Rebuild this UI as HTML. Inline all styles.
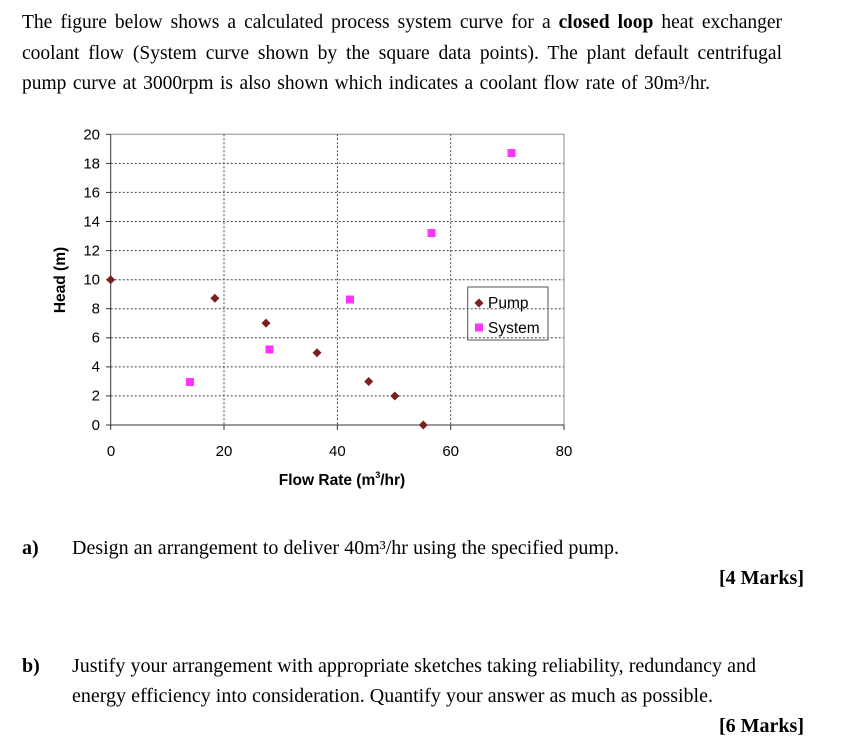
<!DOCTYPE html>
<html><head><style>
body{margin:0;background:#fff;width:860px;height:742px;overflow:hidden;font-family:"Liberation Serif",serif;color:#000}
.l{position:absolute;left:22px;width:760px;font-size:19.5px;line-height:31px;white-space:nowrap;text-align:justify;text-align-last:justify}
.t{position:absolute;font-size:20px;white-space:nowrap}
</style></head><body>
<div class="l" style="top:7px">The figure below shows a calculated process system curve for a <b>closed loop</b> heat exchanger</div>
<div class="l" style="top:38px">coolant flow (System curve shown by the square data points). The plant default centrifugal</div>
<div class="l" style="top:68px;width:688px">pump curve at 3000rpm is also shown which indicates a coolant flow rate of 30m³/hr.</div>
<svg style="position:absolute;left:0;top:0" width="860" height="742" font-family="Liberation Sans, sans-serif">
<g stroke="#444" stroke-width="1" stroke-dasharray="2,2">
<line x1="110.7" x2="564" y1="163.4" y2="163.4"/><line x1="110.7" x2="564" y1="192.4" y2="192.4"/><line x1="110.7" x2="564" y1="221.5" y2="221.5"/><line x1="110.7" x2="564" y1="250.6" y2="250.6"/><line x1="110.7" x2="564" y1="279.7" y2="279.7"/><line x1="110.7" x2="564" y1="308.7" y2="308.7"/><line x1="110.7" x2="564" y1="337.8" y2="337.8"/><line x1="110.7" x2="564" y1="366.9" y2="366.9"/><line x1="110.7" x2="564" y1="395.9" y2="395.9"/>
<line x1="224" x2="224" y1="134.3" y2="425"/><line x1="337.4" x2="337.4" y1="134.3" y2="425"/><line x1="450.7" x2="450.7" y1="134.3" y2="425"/>
</g>
<polyline points="110.7,134.3 564,134.3 564,425" fill="none" stroke="#888"/>
<g stroke="#333"><line x1="110.7" y1="134.3" x2="110.7" y2="425"/><line x1="110.7" y1="425" x2="564" y2="425"/>
<line x1="106" x2="110.7" y1="134.3" y2="134.3"/><line x1="106" x2="110.7" y1="163.4" y2="163.4"/><line x1="106" x2="110.7" y1="192.4" y2="192.4"/><line x1="106" x2="110.7" y1="221.5" y2="221.5"/><line x1="106" x2="110.7" y1="250.6" y2="250.6"/><line x1="106" x2="110.7" y1="279.7" y2="279.7"/><line x1="106" x2="110.7" y1="308.7" y2="308.7"/><line x1="106" x2="110.7" y1="337.8" y2="337.8"/><line x1="106" x2="110.7" y1="366.9" y2="366.9"/><line x1="106" x2="110.7" y1="395.9" y2="395.9"/><line x1="106" x2="110.7" y1="425" y2="425"/>
<line x1="110.7" x2="110.7" y1="425" y2="430"/><line x1="224" x2="224" y1="425" y2="430"/><line x1="337.4" x2="337.4" y1="425" y2="430"/><line x1="450.7" x2="450.7" y1="425" y2="430"/><line x1="564" x2="564" y1="425" y2="430"/></g>
<g font-size="15" text-anchor="end" fill="#000">
<text x="100" y="139.5">20</text><text x="100" y="168.5">18</text><text x="100" y="197.5">16</text><text x="100" y="226.5">14</text><text x="100" y="255.5">12</text><text x="100" y="284.5">10</text><text x="100" y="313.5">8</text><text x="100" y="342.5">6</text><text x="100" y="371.5">4</text><text x="100" y="400.5">2</text><text x="100" y="430">0</text></g>
<g font-size="15" text-anchor="middle"><text x="111" y="456">0</text><text x="224" y="456">20</text><text x="337.4" y="456">40</text><text x="450.7" y="456">60</text><text x="564" y="456">80</text></g>
<text x="342" y="485" font-size="15.5" font-weight="bold" text-anchor="middle">Flow Rate (m<tspan font-size="9" dy="-7">3</tspan><tspan dy="7">/hr)</tspan></text>
<text transform="translate(65,280) rotate(-90)" font-size="15.5" font-weight="bold" text-anchor="middle">Head (m)</text>
<g fill="#7a2020">
<path d="M110.7,275.2l4.5,4.5l-4.5,4.5l-4.5,-4.5z"/><path d="M214.9,293.7l4.5,4.5l-4.5,4.5l-4.5,-4.5z"/><path d="M266,318.6l4.5,4.5l-4.5,4.5l-4.5,-4.5z"/><path d="M317,348.3l4.5,4.5l-4.5,4.5l-4.5,-4.5z"/><path d="M368.7,377l4.5,4.5l-4.5,4.5l-4.5,-4.5z"/><path d="M394.8,391.5l4.5,4.5l-4.5,4.5l-4.5,-4.5z"/><path d="M423.3,420.5l4.5,4.5l-4.5,4.5l-4.5,-4.5z"/>
<path d="M479,298.5l4.5,4.5l-4.5,4.5l-4.5,-4.5z"/></g>
<g fill="#ff33ff">
<rect x="186" y="378" width="8" height="8"/><rect x="265.5" y="345.5" width="8" height="8"/><rect x="346" y="295.5" width="8" height="8"/><rect x="427.5" y="229" width="8" height="8"/><rect x="507.5" y="149" width="8" height="8"/>
<rect x="475" y="323.5" width="8" height="8"/></g>
<rect x="467.7" y="287" width="80.3" height="53" fill="none" stroke="#555"/>
<g font-size="15.5"><text x="488" y="308">Pump</text><text x="488" y="333">System</text></g>
</svg>
<div class="t" style="left:22px;top:537px"><b>a)</b></div>
<div class="t" style="left:72px;top:537px;width:547px;text-align:justify;text-align-last:justify">Design an arrangement to deliver 40m³/hr using the specified pump.</div>
<div class="t" style="left:719px;top:567px"><b>[4 Marks]</b></div>
<div class="t" style="left:22px;top:655px"><b>b)</b></div>
<div class="t" style="left:72px;top:655px;width:684px;text-align:justify;text-align-last:justify">Justify your arrangement with appropriate sketches taking reliability, redundancy and</div>
<div class="t" style="left:72px;top:685px;width:641px;text-align:justify;text-align-last:justify">energy efficiency into consideration. Quantify your answer as much as possible.</div>
<div class="t" style="left:719px;top:715px"><b>[6 Marks]</b></div>
</body></html>
